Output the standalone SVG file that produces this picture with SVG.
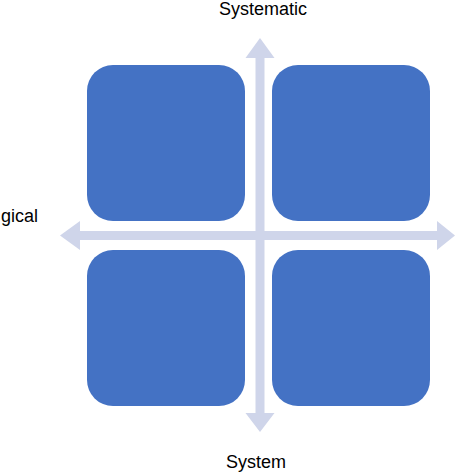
<svg xmlns="http://www.w3.org/2000/svg" width="474" height="474" viewBox="0 0 474 474">
<style>
.box{fill:#4472C4;}
.arr{fill:#CFD5EA;}
.lbl{font-family:"Liberation Sans",Arial,sans-serif;font-size:18px;fill:#000;}
</style>
<rect width="474" height="474" fill="#fff"/>
<g id="connectors">
<polygon class="arr" points="260,38 274.5,58 264.5,58 264.5,413 274.5,413 260,432 245.5,413 255.5,413 255.5,58 245.5,58"/>
<polygon class="arr" points="60,235.5 80,221 80,231 437,231 437,221 455,235.5 437,250 437,240 80,240 80,250"/>
</g>
<g id="box-tl"><rect class="box" x="87" y="65" width="158" height="156" rx="26"/></g>
<g id="box-tr"><rect class="box" x="272" y="65" width="158" height="156" rx="26"/></g>
<g id="box-bl"><rect class="box" x="87" y="250" width="158" height="156" rx="26"/></g>
<g id="box-br"><rect class="box" x="272" y="250" width="158" height="156" rx="26"/></g>
<g id="label-top"><text class="lbl" x="263" y="15" text-anchor="middle">Systematic</text></g>
<g id="label-bottom"><text class="lbl" x="256" y="468" text-anchor="middle">System</text></g>
<g id="label-left"><text class="lbl" x="1" y="222">gical</text></g>
</svg>
